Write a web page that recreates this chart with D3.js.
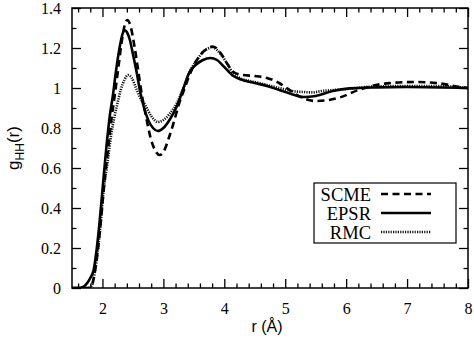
<!DOCTYPE html>
<html>
<head>
<meta charset="utf-8">
<script src="https://cdn.jsdelivr.net/npm/d3@7"></script>
<style>
  html, body { margin: 0; padding: 0; background: #fff; }
  svg { display: block; }
</style>
</head>
<body>
<svg id="chart" width="474" height="345"></svg>
<script>
// H-H radial distribution functions g_HH(r) from three models
const rScme = [1.5, 1.7, 1.78, 1.82, 1.88, 1.96, 2.02, 2.09, 2.15, 2.2, 2.26, 2.32, 2.37, 2.41, 2.46, 2.53, 2.59, 2.65, 2.7, 2.8, 2.88, 2.94, 3.0, 3.1, 3.2, 3.25, 3.35, 3.45, 3.55, 3.65, 3.74, 3.8, 3.87, 3.95, 4.05, 4.15, 4.3, 4.5, 4.7, 4.8, 4.9, 5.0, 5.24, 5.5, 5.9, 6.2, 6.66, 7.1, 7.53, 7.86, 8.0];
const gScme = [0, 0, 0, 0.01, 0.09, 0.29, 0.49, 0.69, 0.85, 0.96, 1.1, 1.24, 1.32, 1.34, 1.31, 1.2, 1.08, 0.96, 0.88, 0.74, 0.68, 0.665, 0.68, 0.76, 0.86, 0.915, 1.0, 1.08, 1.14, 1.18, 1.2, 1.207, 1.2, 1.17, 1.12, 1.08, 1.065, 1.06, 1.05, 1.04, 1.025, 1.005, 0.957, 0.935, 0.953, 0.99, 1.023, 1.03, 1.023, 1.005, 1.0];

const rEpsr = [1.5, 1.6, 1.68, 1.75, 1.8, 1.855, 1.94, 2.0, 2.06, 2.12, 2.17, 2.22, 2.28, 2.32, 2.36, 2.4, 2.45, 2.5, 2.56, 2.62, 2.67, 2.75, 2.83, 2.91, 3.0, 3.1, 3.23, 3.33, 3.43, 3.55, 3.65, 3.77, 3.88, 4.0, 4.15, 4.25, 4.5, 4.7, 4.9, 5.1, 5.3, 5.5, 5.78, 6.06, 6.5, 7.0, 8.0];
const gEpsr = [0, 0, 0.005, 0.025, 0.05, 0.09, 0.29, 0.49, 0.69, 0.86, 0.96, 1.08, 1.2, 1.26, 1.29, 1.28, 1.24, 1.17, 1.08, 0.98, 0.915, 0.84, 0.8, 0.785, 0.8, 0.84, 0.915, 1.0, 1.08, 1.12, 1.14, 1.15, 1.14, 1.105, 1.06, 1.045, 1.025, 1.01, 0.99, 0.97, 0.955, 0.96, 0.985, 0.998, 1.003, 1.005, 1.0];

const rRmc = [1.5, 1.75, 1.82, 1.88, 1.96, 2.02, 2.08, 2.14, 2.2, 2.24, 2.3, 2.36, 2.42, 2.48, 2.55, 2.62, 2.7, 2.8, 2.915, 3.0, 3.1, 3.23, 3.33, 3.43, 3.55, 3.65, 3.75, 3.8, 3.88, 3.95, 4.05, 4.15, 4.25, 4.5, 4.7, 4.9, 5.1, 5.3, 5.45, 5.6, 5.8, 6.0, 6.5, 7.0, 7.5, 8.0];
const gRmc = [0, 0, 0.01, 0.09, 0.29, 0.49, 0.62, 0.76, 0.86, 0.915, 0.99, 1.04, 1.065, 1.05, 1.0, 0.95, 0.915, 0.86, 0.83, 0.84, 0.87, 0.93, 1.0, 1.08, 1.14, 1.18, 1.2, 1.205, 1.19, 1.165, 1.12, 1.07, 1.05, 1.03, 1.015, 1.0, 0.985, 0.98, 0.978, 0.985, 0.99, 0.995, 1.008, 1.01, 1.01, 1.0];

const seriesNames = ["SCME", "EPSR", "RMC"];
const xMajorTicks = [2, 3, 4, 5, 6, 7, 8];
const yMajorTicks = [0, 0.2, 0.4, 0.6, 0.8, 1, 1.2, 1.4];

const svg = d3.select("#chart");
const plotLeft = 72, plotRight = 468, plotTop = 8, plotBottom = 288;

const x = d3.scaleLinear().domain([1.5, 8]).range([plotLeft, plotRight]);
const y = d3.scaleLinear().domain([0, 1.4]).range([plotBottom, plotTop]);

const serif = "'Liberation Serif', 'Times New Roman', serif";
const sans = "'Liberation Sans', Arial, sans-serif";

const xMinor = d3.range(1.6, 8.0001, 0.2).filter(v => Math.abs(v - Math.round(v)) > 1e-6);
const yMinor = d3.range(0.1, 1.4, 0.2);

function styleAxis(g) {
  g.select(".domain").remove();
  g.selectAll(".tick line").attr("stroke", "#000").attr("stroke-width", 1.3);
  g.selectAll(".tick text").attr("font-family", serif).attr("font-size", 16).attr("fill", "#000");
}

// bottom axis: labelled majors and minors, ticks pointing inward
svg.append("g").attr("transform", `translate(0,${plotBottom})`)
  .call(d3.axisBottom(x).tickValues(xMajorTicks).tickSize(-9).tickPadding(15).tickFormat(d3.format("d")))
  .call(styleAxis);
svg.append("g").attr("transform", `translate(0,${plotBottom})`)
  .call(d3.axisBottom(x).tickValues(xMinor).tickSize(-4.5).tickFormat(""))
  .call(styleAxis);
// top axis
svg.append("g").attr("transform", `translate(0,${plotTop})`)
  .call(d3.axisTop(x).tickValues(xMajorTicks).tickSize(-9).tickFormat(""))
  .call(styleAxis);
svg.append("g").attr("transform", `translate(0,${plotTop})`)
  .call(d3.axisTop(x).tickValues(xMinor).tickSize(-4.5).tickFormat(""))
  .call(styleAxis);
// left axis
svg.append("g").attr("transform", `translate(${plotLeft},0)`)
  .call(d3.axisLeft(y).tickValues(yMajorTicks).tickSize(-9).tickPadding(11).tickFormat(d => String(+d.toFixed(1))))
  .call(styleAxis);
svg.append("g").attr("transform", `translate(${plotLeft},0)`)
  .call(d3.axisLeft(y).tickValues(yMinor).tickSize(-4.5).tickFormat(""))
  .call(styleAxis);
// right axis
svg.append("g").attr("transform", `translate(${plotRight},0)`)
  .call(d3.axisRight(y).tickValues(yMajorTicks).tickSize(-9).tickFormat(""))
  .call(styleAxis);
svg.append("g").attr("transform", `translate(${plotRight},0)`)
  .call(d3.axisRight(y).tickValues(yMinor).tickSize(-4.5).tickFormat(""))
  .call(styleAxis);

// frame
svg.append("rect")
  .attr("x", plotLeft).attr("y", plotTop)
  .attr("width", plotRight - plotLeft).attr("height", plotBottom - plotTop)
  .attr("fill", "none").attr("stroke", "#000").attr("stroke-width", 1.5);

// curves
const styles = {
  SCME: { dash: "7,4.5", width: 2.6, color: "#000" },
  EPSR: { dash: null, width: 2.6, color: "#000" },
  RMC: { dash: "1.2,1.2", width: 2.6, color: "#111" }
};
const seriesData = {
  SCME: d3.zip(rScme, gScme),
  EPSR: d3.zip(rEpsr, gEpsr),
  RMC: d3.zip(rRmc, gRmc)
};

const line = d3.line()
  .x(d => x(d[0]))
  .y(d => y(d[1]))
  .curve(d3.curveMonotoneX);

svg.append("defs").append("clipPath").attr("id", "plotclip")
  .append("rect").attr("x", plotLeft).attr("y", plotTop - 2)
  .attr("width", plotRight - plotLeft).attr("height", plotBottom - plotTop + 2);

const plot = svg.append("g").attr("clip-path", "url(#plotclip)");
["RMC", "EPSR", "SCME"].forEach(name => {
  const s = styles[name];
  plot.append("path")
    .datum(seriesData[name])
    .attr("d", line)
    .attr("fill", "none")
    .attr("stroke", s.color)
    .attr("stroke-width", s.width)
    .attr("stroke-dasharray", s.dash)
    .attr("stroke-linejoin", "round");
});

// legend
const legend = svg.append("g");
legend.append("rect")
  .attr("x", 314).attr("y", 183).attr("width", 142).attr("height", 60)
  .attr("fill", "#fff").attr("stroke", "#000").attr("stroke-width", 1.2);
seriesNames.forEach((name, i) => {
  const ly = 194 + i * 19;
  legend.append("text")
    .attr("x", 371).attr("y", ly + 7)
    .attr("text-anchor", "end")
    .attr("font-family", serif).attr("font-size", 18.5)
    .text(name);
  legend.append("line")
    .attr("x1", 381).attr("x2", 431).attr("y1", ly).attr("y2", ly)
    .attr("stroke", styles[name].color)
    .attr("stroke-width", styles[name].width)
    .attr("stroke-dasharray", styles[name].dash);
});

// axis titles
svg.append("text")
  .attr("x", 267).attr("y", 332)
  .attr("text-anchor", "middle")
  .attr("font-family", sans).attr("font-size", 16)
  .text("r (Å)");

const yt = svg.append("text")
  .attr("transform", "translate(19,148) rotate(-90)")
  .attr("text-anchor", "middle")
  .attr("font-family", sans).attr("font-size", 17);
yt.append("tspan").text("g");
yt.append("tspan").attr("font-size", 12).attr("dy", 5).text("HH");
yt.append("tspan").attr("dy", -5).text("(r)");
</script>
</body>
</html>
